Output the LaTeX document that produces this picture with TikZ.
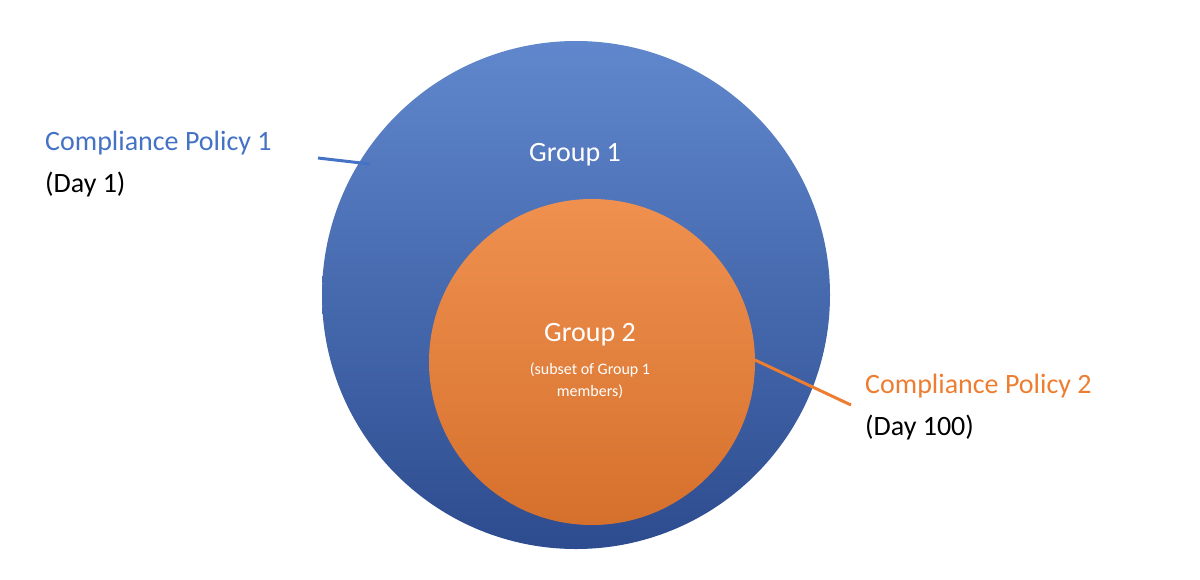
\documentclass[tikz,border=0pt]{standalone}
\usepackage{fontspec}
\setmainfont{Carlito}
\definecolor{cblue}{HTML}{4472C4}
\definecolor{corange}{HTML}{ED7D31}
\begin{document}
\begin{tikzpicture}[x=1pt,y=-1pt,
  lbl/.style={anchor=west,inner sep=0pt,font=\fontsize{28}{30}\selectfont},
  wlbl/.style={text=white,inner sep=0pt}]
\useasboundingbox (0,0) rectangle (1200,579);
\node[circle,minimum size=508pt,inner sep=0pt,top color=cblue!85!white,bottom color=cblue!70!black!95!blue,draw=none] (g1) at (576,295) {};
\node[circle,minimum size=326pt,inner sep=0pt,top color=corange!85!white,bottom color=corange!90!black,draw=none] (g2) at (592,362) {};
\node[wlbl,font=\fontsize{28}{30}\selectfont] (t1) at (575,155) {Group 1};
\node[wlbl,font=\fontsize{28}{30}\selectfont] (t2) at (590,335) {Group 2};
\node[wlbl,font=\fontsize{16}{22}\selectfont,align=center] (t3) at (590,381) {(subset of Group 1\\members)};
\node[lbl,text=cblue] (p1) at (45,143) {Compliance Policy 1};
\node[lbl] (d1) at (45,185) {(Day 1)};
\node[lbl,text=corange] (p2) at (865,386) {Compliance Policy 2};
\node[lbl] (d2) at (865,428) {(Day 100)};
\coordinate (a1) at (318,158);
\coordinate (a2) at (370,164);
\coordinate (b1) at (755,360);
\coordinate (b2) at (851,405);
\draw[cblue,line width=3pt] (a1) -- (a2);
\draw[corange,line width=3pt] (b1) -- (b2);
\end{tikzpicture}
\end{document}
